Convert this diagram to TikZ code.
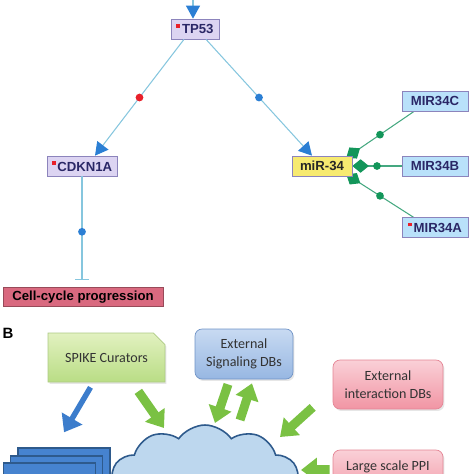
\documentclass[tikz,border=0pt]{standalone}
\usepackage{fontspec}
\setmainfont{Liberation Sans}
\newfontfamily\calibri{Carlito}
\usepackage{tikz}
\usetikzlibrary{arrows.meta, positioning, shapes.symbols, shapes.misc, calc, backgrounds, shadows}
\definecolor{lnblue}{HTML}{86C6DE}
\definecolor{tipblue}{HTML}{2B7FD4}
\definecolor{genefill}{HTML}{DCD4F2}
\definecolor{genedraw}{HTML}{8C84BC}
\definecolor{mirfill}{HTML}{B9E1FA}
\definecolor{mirylw}{HTML}{F7EA70}
\definecolor{cellred}{HTML}{D9697F}
\definecolor{dkgreen}{HTML}{13965A}
\definecolor{lngreen}{HTML}{45A880}
\definecolor{dotred}{HTML}{E8202A}
\definecolor{txtnavy}{HTML}{2A2766}
\definecolor{arrgreen}{HTML}{7AC143}
\definecolor{arrblue}{HTML}{3C7DCC}
\definecolor{cloudfill}{HTML}{BDD7EE}
\definecolor{clouddraw}{HTML}{2E5A8C}
\definecolor{sigtop}{HTML}{C8DAF2}
\definecolor{sigbot}{HTML}{97B7E2}
\definecolor{sigdraw}{HTML}{6F93C6}
\definecolor{pinktop}{HTML}{FAD0D7}
\definecolor{pinkbot}{HTML}{F195A4}
\definecolor{pinkdraw}{HTML}{E48494}
\definecolor{spktop}{HTML}{E2F1C0}
\definecolor{spkbot}{HTML}{B9DD85}
\newcommand{\redmk}{\textcolor{dotred}{\raisebox{0.9ex}{\rule{2.2pt}{2.2pt}}}\hspace{1pt}}
\tikzset{
  gene/.style={rectangle, draw=genedraw, fill=#1, text=txtnavy,
               font=\fontsize{7.5}{8}\selectfont\bfseries,
               minimum height=0.4cm, inner sep=1pt},
  gene/.default=genefill,
  act/.style={draw=lnblue, line width=0.6pt,
              -{Triangle[length=0.26cm, width=0.28cm, color=tipblue]}},
  inh/.style={draw=lnblue, line width=0.6pt,
              -{Bar[width=0.28cm, line width=0.8pt]}},
  bind/.style={draw=lngreen, line width=0.6pt,
               -{Diamond[length=0.33cm, width=0.27cm, color=dkgreen]}},
  dot/.style={circle, fill=#1, inner sep=0pt, minimum size=0.155cm},
  dbbox/.style n args={3}{rectangle, rounded corners=4pt, draw=#3,
               top color=#1, bottom color=#2, font=\calibri\fontsize{8}{10}\selectfont,
               text=black!80, align=center, minimum width=2.2cm, minimum height=0.98cm,
               drop shadow={opacity=0.2, shadow xshift=0.03cm, shadow yshift=-0.04cm}},
  bigarr/.style={draw=#1, line width=0.18cm,
                 -{Triangle[length=0.32cm, width=0.46cm]}},
  bigarr/.default=arrgreen,
  stackbox/.style={rectangle, draw=clouddraw, fill=arrblue!95!white, line width=0.8pt,
                   minimum width=1.84cm, minimum height=1.2cm},
}
\begin{document}
\begin{tikzpicture}[x=0.02cm, y=-0.02cm]
  \useasboundingbox (0,0) rectangle (474,474);
  \clip (0,0) rectangle (474,474);
  %% A: TP53 network
  \node[gene, minimum width=0.96cm] (tp53) at (195,29) {\redmk TP53};
  \node[gene, minimum width=1.4cm]  (cdkn) at (82,166) {\redmk CDKN1A};
  \node[gene=mirylw, text=black!85, minimum width=1.2cm] (mir34) at (322,166) {miR-34};
  \node[gene=mirfill, minimum width=1.32cm] (mir34b) at (435,166) {MIR34B};
  \node[gene=mirfill, minimum width=1.32cm, above=0.88cm of mir34b] (mir34c) {MIR34C};
  \node[gene=mirfill, minimum width=1.32cm, below=0.82cm of mir34b] (mir34a) {\redmk MIR34A};
  \node[gene=cellred, text=black, draw=cellred!70!black, minimum width=3.2cm,
        minimum height=0.38cm] (cell) at (83,297) {Cell-cycle progression};
  \coordinate (tpin) at (193,-2);
  \draw[act] (tpin) -- (tpin |- tp53.north);
  \draw[act] ($(tp53.south)+(-11,0)$) -- node[dot=dotred]{} ($(cdkn.north)+(13,0)$);
  \draw[act] ($(tp53.south)+(11,0)$) -- node[dot=tipblue]{} ($(mir34.north)+(-10,0)$);
  \draw[inh, shorten >=0.14cm] (cdkn.south) -- node[dot=tipblue]{} (cdkn.south |- cell.north);
  \begin{scope}[on background layer]
    \draw[bind] ($(mir34c.south west)+(12,0)$) -- node[dot=dkgreen]{} ($(mir34.north east)+(-6,2)$);
    \draw[bind] (mir34b.west) -- node[dot=dkgreen]{} (mir34.east);
    \draw[bind] ($(mir34a.north west)+(12,0)$) -- node[dot=dkgreen]{} ($(mir34.south east)+(-6,-2)$);
  \end{scope}
  %% B: data sources
  \node[font=\fontsize{8.5}{10}\selectfont\bfseries] (lblb) at (8,333) {B};
  \node[chamfered rectangle, chamfered rectangle corners={north east},
        chamfered rectangle xsep=0.14cm, chamfered rectangle ysep=0.14cm,
        draw=spkbot!80!gray, top color=spktop, bottom color=spkbot,
        font=\calibri\fontsize{8}{10}\selectfont, text=black!80,
        minimum width=2.34cm, minimum height=0.98cm, inner sep=0pt,
        drop shadow={opacity=0.2, shadow xshift=0.03cm, shadow yshift=-0.04cm}]
        (spike) at (106.5,357.5) {SPIKE Curators};
  \node[dbbox={sigtop}{sigbot}{sigdraw}, minimum width=1.96cm, minimum height=1cm]
        (extsig) at (244,354) {External\\Signaling DBs};
  \node[dbbox={pinktop}{pinkbot}{pinkdraw}] (extint) at (388,384.5) {External\\interaction DBs};
  \node[dbbox={pinktop}{pinkbot}{pinkdraw}] (ppi) at (388,474.5) {Large scale PPI\\\mbox{}};
  \node[cloud, cloud puffs=11, cloud puff arc=110, draw=clouddraw, fill=cloudfill,
        line width=0.9pt, minimum width=3.9cm, minimum height=2.6cm] (cloud) at (205,490) {};
  \node[stackbox] (stack1) at (64,478) {};
  \node[stackbox] (stack2) at (56.5,486) {};
  \node[stackbox] (stack3) at (49.5,493) {};
  \draw[bigarr=arrblue, line width=0.11cm] ($(spike.south)+(-16,5)$) -- ($(stack1.north)+(0,-15)$);
  \draw[bigarr] ($(spike.south east)+(-27,9)$) -- ($(cloud.center)+(-41,-62)$);
  \draw[bigarr] ($(extsig.south)+(-16,5)$) -- ($(cloud.center)+(10,-67)$);
  \draw[bigarr] ($(cloud.center)+(35,-70)$) -- ($(extsig.south)+(8,4)$);
  \draw[bigarr] ($(extint.south west)+(-20,-2)$) -- ($(cloud.center)+(75,-53)$);
  \draw[bigarr] ($(ppi.west)+(-3,-5)$) -- ($(cloud.center)+(96,-20)$);
\end{tikzpicture}
\end{document}
